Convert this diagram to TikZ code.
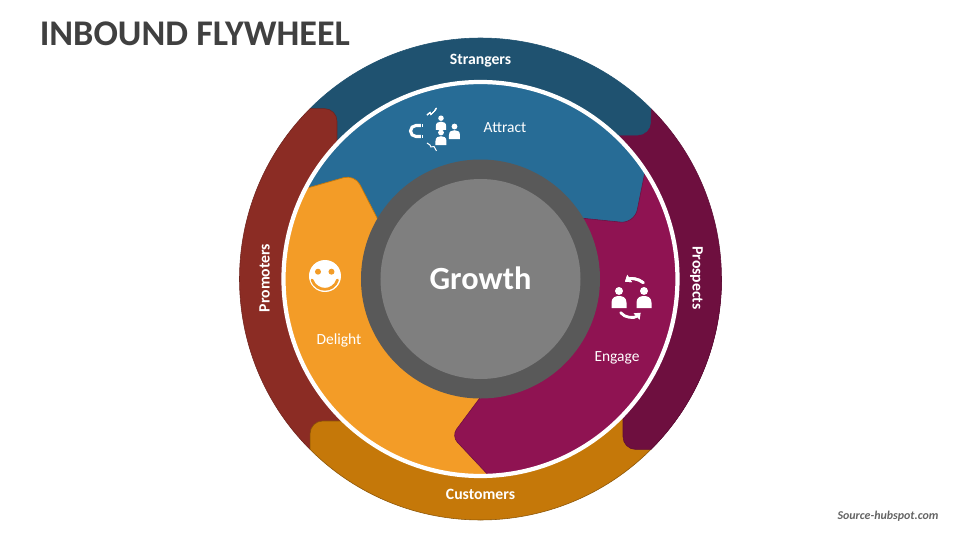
\documentclass[tikz,border=0pt]{standalone}
\usepackage{fontspec}
\setmainfont{Carlito}
\usetikzlibrary{arrows.meta}
\definecolor{TitleGray}{RGB}{64, 64, 64}
\definecolor{SourceGray}{RGB}{100, 100, 100}
\definecolor{RingBlue}{RGB}{31, 82, 112}
\definecolor{RingRed}{RGB}{139, 44, 36}
\definecolor{RingGold}{RGB}{197, 120, 9}
\definecolor{RingPlum}{RGB}{110, 15, 63}
\definecolor{WedgeBlue}{RGB}{39, 108, 150}
\definecolor{WedgeOrange}{RGB}{243, 156, 39}
\definecolor{WedgePlum}{RGB}{143, 19, 82}
\definecolor{HubDark}{RGB}{89, 89, 89}
\definecolor{HubLight}{RGB}{127, 127, 127}
% Trazados que se dibujan dos veces
\newcommand{\pathProspects}{(45:241) arc[start angle=45, end angle=-45, radius=241]
    [rounded corners=9] -- (142.5,-170.4) [sharp corners] -- (142.5,-130) -- (125,140) -- cycle}
\newcommand{\pathEngage}{(35:196) arc[start angle=35, end angle=-87.8, radius=196]
    [rounded corners=6] -- (-29,-157) [sharp corners] -- (3,-114) -- (90,50) -- (102.5,70) -- cycle}
% Busto de persona: x, y, semiancho
\newcommand{\bust}[3]{
    \fill[white] (#1,#2+2.27*#3) circle ({0.53*#3});
    \fill[white] (#1-#3,#2) -- (#1-#3,#2+0.7*#3) .. controls (#1-#3,#2+1.4*#3) and (#1-0.5*#3,#2+1.6*#3) .. (#1,#2+1.6*#3)
        .. controls (#1+0.5*#3,#2+1.6*#3) and (#1+#3,#2+1.4*#3) .. (#1+#3,#2+0.7*#3) -- (#1+#3,#2) -- cycle;
}
\tikzset{
    ringlabel/.style={white, font=\bfseries\fontsize{11.2}{13}\selectfont},
    wedgelabel/.style={white, font=\fontsize{11}{13}\selectfont},
    iconline/.style={white, line width=2pt, line cap=round},
}
\begin{document}
\begin{tikzpicture}[x=0.025cm, y=0.025cm]
    \useasboundingbox (-480.5,-261) rectangle (479.5,279);

    % Anillo exterior
    \filldraw[fill=RingPlum, draw=RingPlum!85!black, line width=0.4pt] \pathProspects;
    \filldraw[fill=RingBlue, draw=RingBlue, line width=0.4pt] (135:241) arc[start angle=135, end angle=45, radius=241]
        [rounded corners=9] -- (169.8,144) [sharp corners] -- (130,144) -- (0,150) -- (-150,100) -- cycle;
    \filldraw[fill=RingRed, draw=RingRed!80!black, line width=0.4pt] (225:241) arc[start angle=225, end angle=135, radius=241]
        [rounded corners=9] -- (-143.5,170.4) [sharp corners] -- (-143.5,130) -- (-130,-142) -- cycle;
    \filldraw[fill=RingGold, draw=RingGold!70!black, line width=0.4pt] (315:241) arc[start angle=315, end angle=225, radius=241]
        [rounded corners=9] -- (-170.4,-142) [sharp corners] -- (-130,-142) -- (0,-150) -- (150,-130) -- cycle;
    \begin{scope}
        \clip (0,-250) rectangle (250,0);
        \filldraw[fill=RingPlum, draw=RingPlum!85!black, line width=0.4pt] \pathProspects;
    \end{scope}

    % Sectores interiores
    \fill[white] (0,0) circle (197);
    \filldraw[fill=WedgePlum, draw=RingPlum, line width=0.4pt] \pathEngage;
    \filldraw[fill=WedgeBlue, draw=RingPlum, line width=0.4pt] (33:196) arc[start angle=33, end angle=155, radius=196]
        -- (-120,60) -- (-60,0) -- (90,62) [rounded corners=10] -- (154,55.5) [sharp corners] -- cycle;
    \filldraw[fill=WedgeOrange, draw=RingGold, line width=0.5pt] (152.4:196) arc[start angle=152.4, end angle=280, radius=196]
        -- (20,-100) -- (-90,35) [rounded corners=8] -- (-125.8,104.5) [sharp corners] -- cycle;
    \begin{scope}
        \clip (-100,-250) rectangle (100,-60);
        \filldraw[fill=WedgePlum, draw=RingPlum, line width=0.4pt] \pathEngage;
    \end{scope}
    \draw[white, line width=3pt] (0,0) circle (197);

    % Centro
    \fill[HubDark] (0,0) circle (119.5);
    \fill[HubLight] (0,0) circle (100);

    % Icono de la sonrisa
    \fill[white] (-155.5,3) circle (16);
    \fill[WedgeOrange] (-162.5,7.3) circle (3) (-149,7.3) circle (3);
    \draw[WedgeOrange, line width=2pt, line cap=round] (-168.5,-1) .. controls (-164,-13.4) and (-147,-13.4) .. (-143,-1);

    % Icono de Engage
    \begin{scope}[shift={(151,-21)}]
        \foreach \bx in {-12.5,12.5}
            \bust{\bx}{-8}{7.5}
        \draw[iconline, -{Triangle[length=4pt, width=6pt]}] (11.8,17.3) .. controls (7,21.5) and (-1,22) .. (-6.5,18.3);
        \draw[iconline, -{Triangle[length=4pt, width=6pt]}] (-10.8,-12.7) .. controls (-7,-18) and (3,-18.5) .. (9.2,-12.7);
    \end{scope}

    % Icono de Attract
    \begin{scope}[shift={(-50.5,148)}]
        \draw[white, line width=2.2pt] (-9,5.5) -- (-14,5.5) arc[start angle=90, end angle=270, radius=5.5] -- (-9,-5.5);
        \draw[white, line width=2.2pt] (-8,5.5) -- (-6.5,5.5) (-8,-5.5) -- (-6.5,-5.5);
        \foreach \bx/\by/\bw in {11/1/5.2, 11/-14/5.5, 24.5/-8/5.5}
            \bust{\bx}{\by}{\bw}
        \draw[white, line width=0.7pt] (-3,16) -- (0,18.5) -- (1,16.5) -- (3.5,19) -- (4.5,20) -- (6.5,23);
        \draw[white, line width=0.7pt] (-3,-12) -- (0,-14) -- (1,-16) -- (4,-15.5) -- (6.5,-20);
    \end{scope}

    % Etiquetas
    \node[anchor=west, inner sep=0pt, TitleGray, font=\bfseries\fontsize{25.7}{30}\selectfont] (title) at (-441,245) {INBOUND FLYWHEEL};
    \node[ringlabel] (strangers) at (0,218) {Strangers};
    \node[ringlabel, rotate=90] (promoters) at (-216,1) {Promoters};
    \node[ringlabel, rotate=-90] (prospects) at (216,1) {Prospects};
    \node[ringlabel] (customers) at (0,-215) {Customers};
    \node[wedgelabel] (attract) at (24.5,151) {Attract};
    \node[wedgelabel] (delight) at (-141.5,-61) {Delight};
    \node[wedgelabel] (engage) at (136.5,-79) {Engage};
    \node[white, font=\bfseries\fontsize{23}{28}\selectfont] (growth) at (0,1) {Growth};
    \node[SourceGray, font=\bfseries\itshape\fontsize{8.5}{10}\selectfont] (source) at (407.5,-237) {Source-hubspot.com};
\end{tikzpicture}
\end{document}
